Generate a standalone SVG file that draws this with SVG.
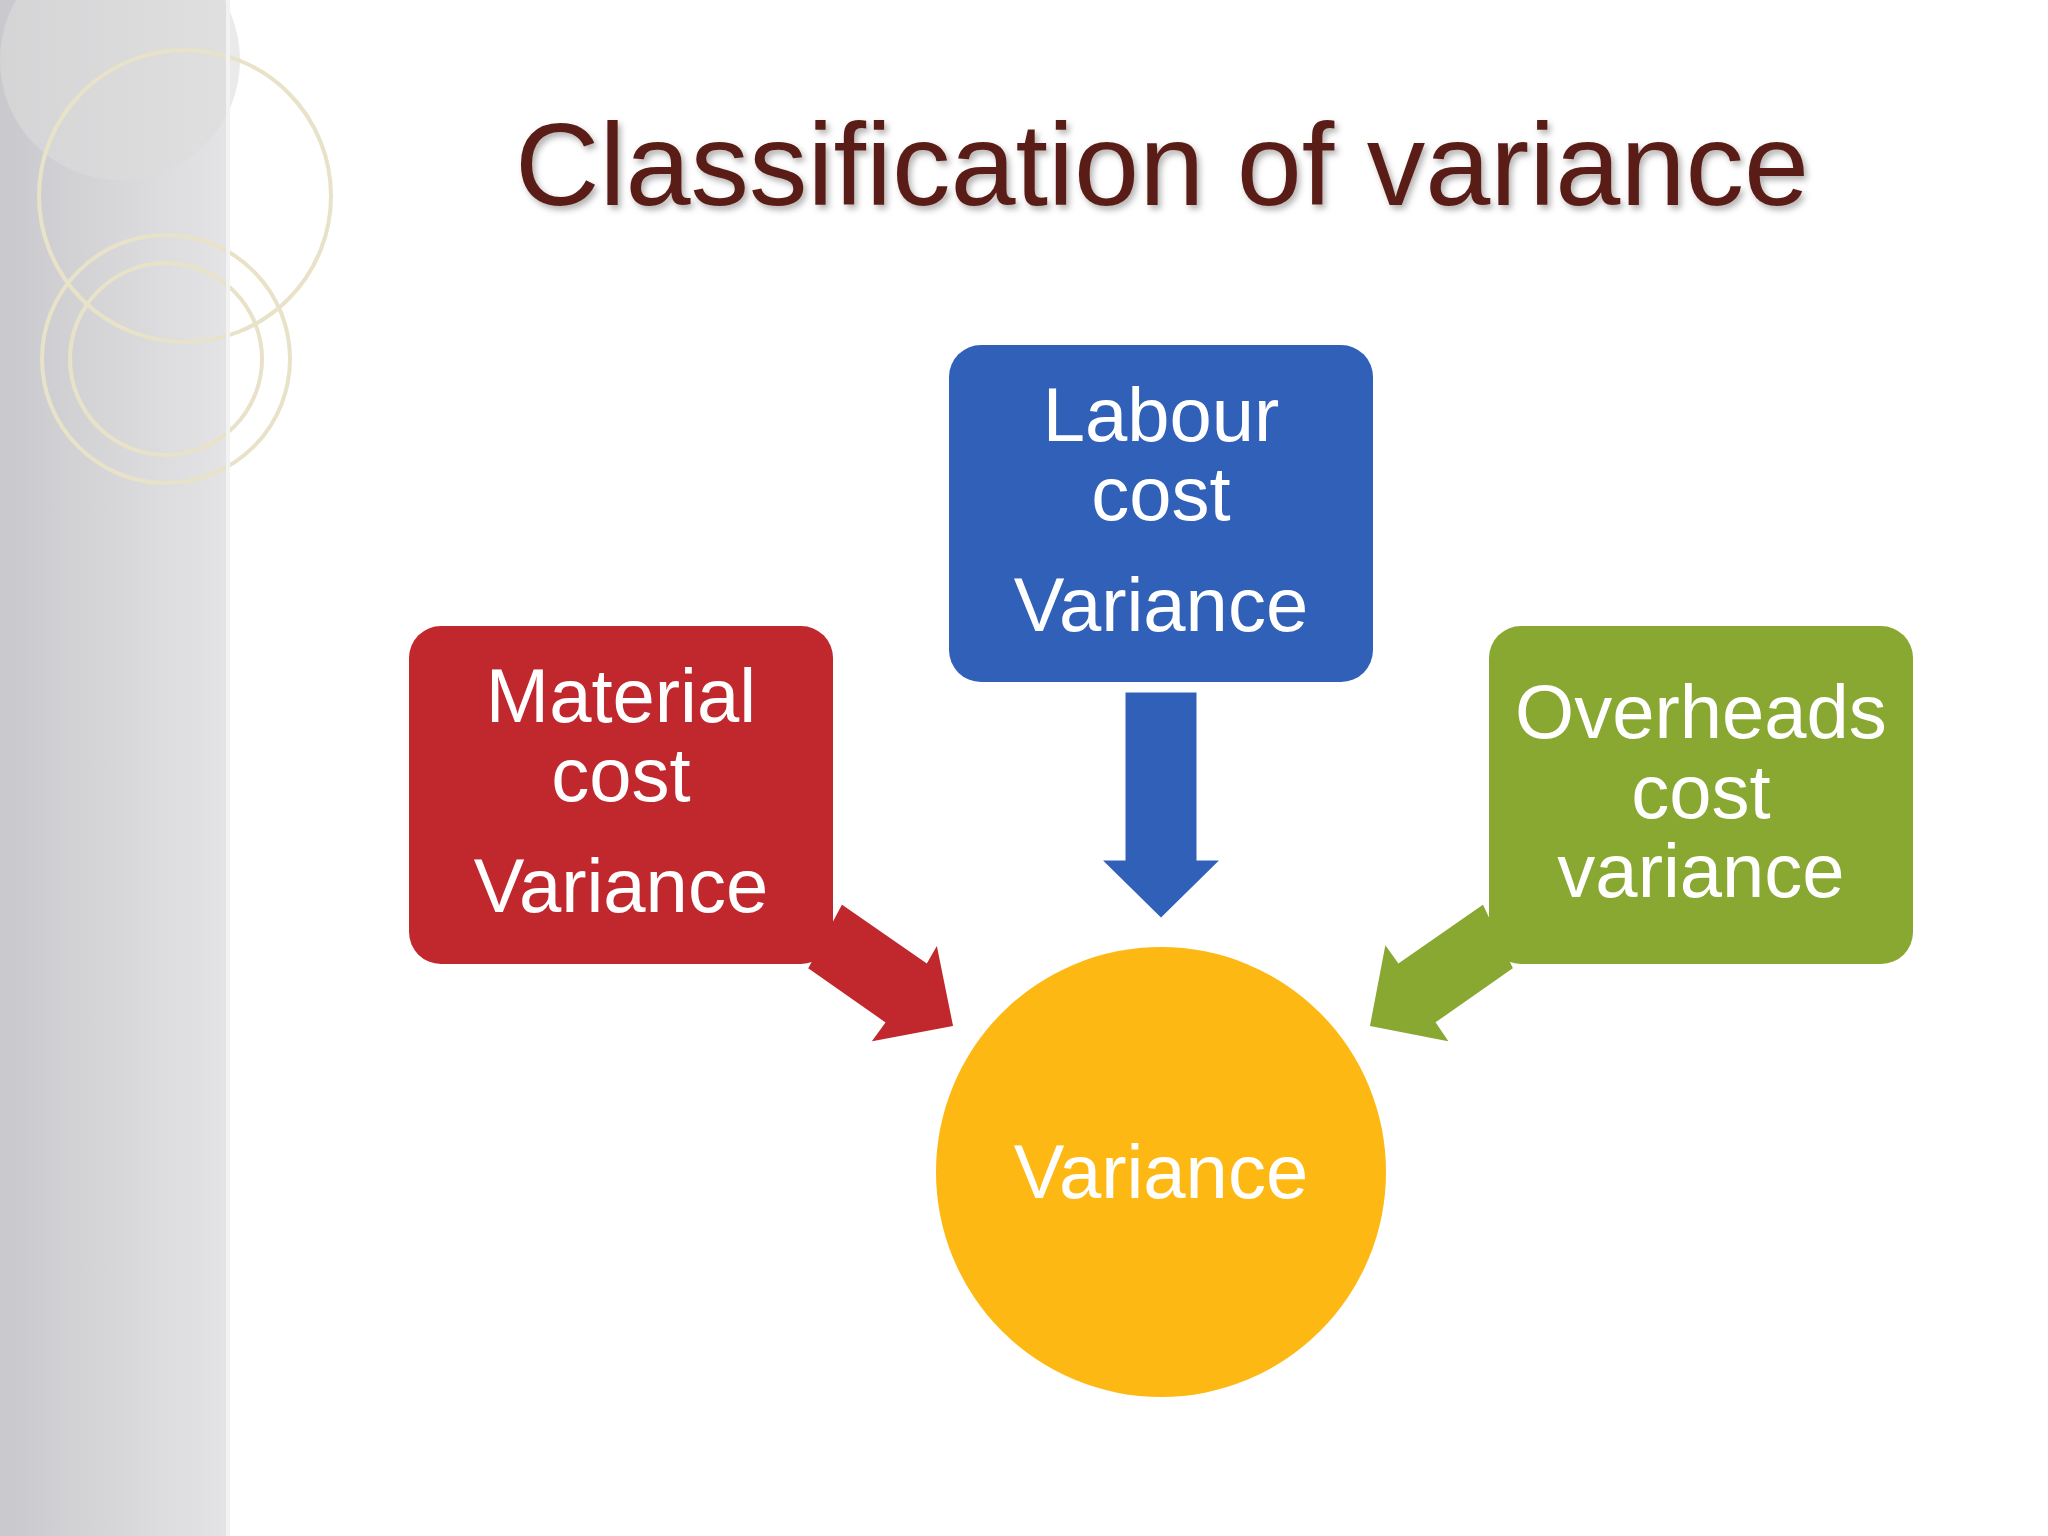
<svg xmlns="http://www.w3.org/2000/svg" width="2048" height="1536" viewBox="0 0 2048 1536">
<defs>
<linearGradient id="side" x1="0" y1="0" x2="1" y2="0"><stop offset="0" stop-color="#c9c9cd"/><stop offset="1" stop-color="#e4e4e6"/></linearGradient>
<filter id="sh"><feDropShadow dx="3" dy="4" stdDeviation="3" flood-color="#000" flood-opacity="0.3"/></filter>
</defs>
<style>
.t{font-family:"Liberation Sans",Arial,sans-serif;fill:#fff;font-size:76px;text-anchor:middle}
.ring{fill:none;stroke:#e8e2c8;stroke-width:4}
</style>
<rect width="2048" height="1536" fill="#fff"/>
<rect width="226" height="1536" fill="url(#side)"/>
<g id="deco">
<circle cx="120" cy="60" r="120" fill="#dcdcdc" opacity="0.6"/>
<circle cx="185" cy="196" r="146" class="ring"/>
<circle cx="166" cy="359" r="124" class="ring"/>
<circle cx="166" cy="359" r="96" class="ring"/>
</g>
<rect x="226" y="0" width="4" height="1536" fill="#f2f2f2"/>
<text x="1162" y="205" font-family="Liberation Sans,Arial,sans-serif" font-size="117" fill="#5a1f14" text-anchor="middle" filter="url(#sh)">Classification of variance</text>
<g id="connectors" stroke="#fff" stroke-width="5" stroke-linejoin="miter">
<polygon points="1123,690 1199,690 1199,858 1225,858 1161,921 1097,858 1123,858" fill="#3060b8"/>
<polygon points="841,901 926,960 938,939 956,1028 866,1045 882,1023 805,969" fill="#c0282e"/>
<polygon points="1484,901 1399,960 1384,939 1367,1028 1454,1045 1439,1023 1516,969" fill="#88a832"/>
</g>
<g id="labour"><rect x="949" y="345" width="424" height="337" rx="32" fill="#3060b8"/>
<text class="t" x="1161" y="441">Labour</text><text class="t" x="1161" y="520">cost</text><text class="t" x="1161" y="631">Variance</text></g>
<g id="material"><rect x="409" y="626" width="424" height="338" rx="32" fill="#c0282e"/>
<text class="t" x="621" y="722">Material</text><text class="t" x="621" y="801">cost</text><text class="t" x="621" y="912">Variance</text></g>
<g id="overheads"><rect x="1489" y="626" width="424" height="338" rx="32" fill="#88a832"/>
<text class="t" x="1701" y="738">Overheads</text><text class="t" x="1701" y="818">cost</text><text class="t" x="1701" y="897">variance</text></g>
<g id="variance"><circle cx="1161" cy="1172" r="225" fill="#fdb813"/>
<text class="t" x="1161" y="1198">Variance</text></g>
</svg>
